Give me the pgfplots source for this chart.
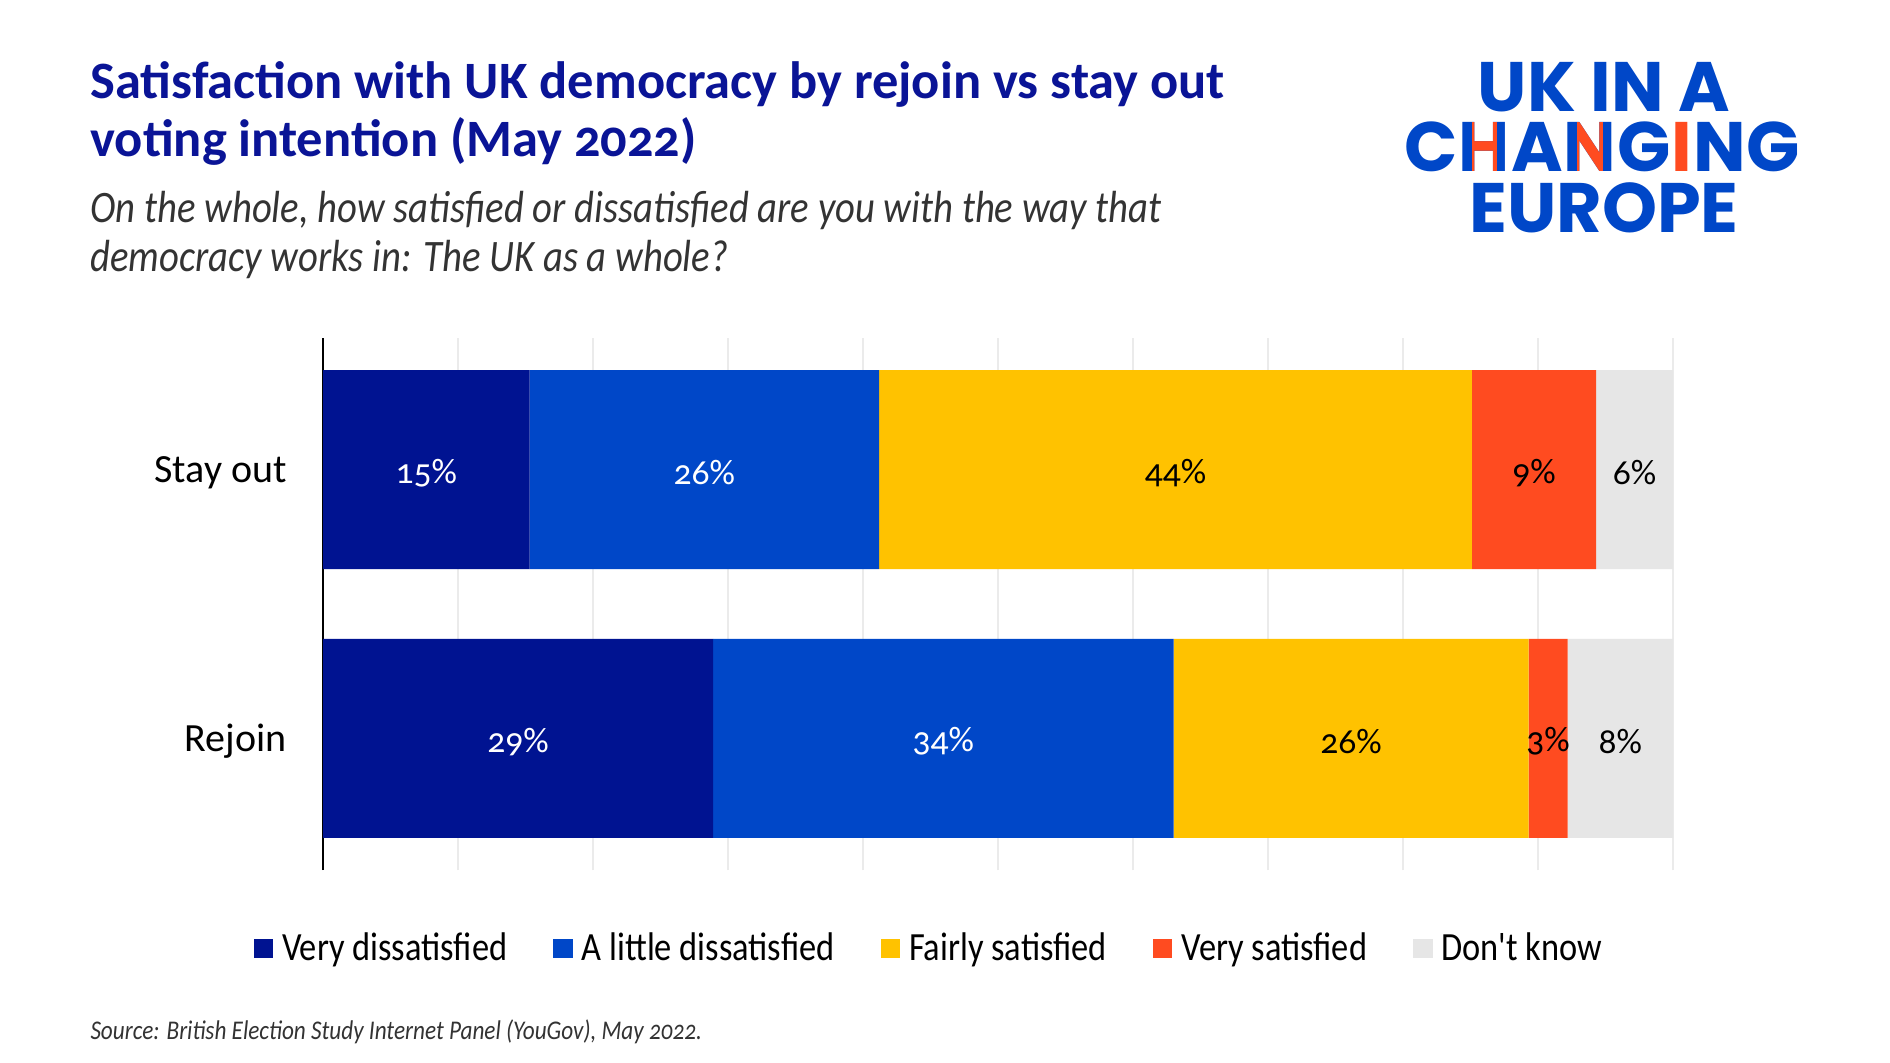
\documentclass[border=0pt]{standalone}
\usepackage{pgfplots}
\pgfplotsset{compat=1.18}
\usepackage{pgfplotstable}
\usepackage{fontspec}
\setmainfont{Carlito}[Numbers=OldStyle]
\newfontfamily\subfont{Carlito}[Numbers=OldStyle, FakeStretch=0.86]
\newfontfamily\logofont{Poppins}
\definecolor{cvd}{HTML}{001391}
\definecolor{cld}{HTML}{0047C8}
\definecolor{cfs}{HTML}{FFC200}
\definecolor{cvs}{HTML}{FF4B20}
\definecolor{cdk}{HTML}{E6E6E6}
\definecolor{titleblue}{HTML}{0A1496}
\definecolor{subgrey}{HTML}{333333}
\definecolor{gridgrey}{HTML}{EBEBEB}

\pgfplotstableread{
y vd ld fs vs dk lvd lld lfs lvs ldk
0 28.9 34.1 26.3 2.9 7.8 29 34 26 3 8
1 15.3 25.9 43.9 9.2 5.7 15 26 44 9 6
}\data

\begin{document}
\begin{tikzpicture}[x=0.4pt,y=-0.4pt]
\fill[white] (0,0) rectangle (1890,1063);
\path[use as bounding box] (0,0) rectangle (1890,1063);

% titles
\node[anchor=base west, inner sep=0, text=titleblue, font=\bfseries\fontsize{21}{24}\selectfont] at (90,99) {Satisfaction with UK democracy by rejoin vs stay out};
\node[anchor=base west, inner sep=0, text=titleblue, font=\bfseries\fontsize{21}{24}\selectfont] at (90,157) {voting intention (May 2022)};
\node[anchor=base west, inner sep=0, text=subgrey, font=\subfont\itshape\fontsize{18}{20}\selectfont] at (90,223) {On the whole, how satisfied or dissatisfied are you with the way that};
\node[anchor=base west, inner sep=0, text=subgrey, font=\subfont\itshape\fontsize{18}{20}\selectfont] at (90,272) {democracy works in: The UK as a whole?};

% logo
\begin{scope}[every node/.style={inner sep=0, text=cld, font=\logofont\bfseries\fontsize{28}{28}\selectfont}]
\node[anchor=base] at (1604,112) {UK IN A};
\node[anchor=base] at (1604,233) {EUROPE};
\node[anchor=base west] (L1) at (1404,172) {C};
\node[anchor=base west] (L2) at (L1.base east) {H};
\node[anchor=base west] (L3) at (L2.base east) {A};
\node[anchor=base west] (L4) at (L3.base east) {N};
\node[anchor=base west] (L5) at (L4.base east) {G};
\node[anchor=base west, text=cvs] (L6) at (L5.base east) {I};
\node[anchor=base west] (L7) at (L6.base east) {N};
\node[anchor=base west] (L8) at (L7.base east) {G};
\begin{scope}
\clip ([xshift=5.6pt]L2.base west) rectangle ([xshift=-5.6pt]L2.north east);
\node[anchor=base west, text=cvs] at (L2.base west) {H};
\end{scope}
\begin{scope}
\clip ([xshift=5.6pt]L4.base west) rectangle ([xshift=-5.6pt]L4.north east);
\node[anchor=base west, text=cvs] at (L4.base west) {N};
\end{scope}
\end{scope}

% source
\node[anchor=base west, inner sep=0, text=subgrey, font=\subfont\itshape\fontsize{10.8}{12}\selectfont] at (90,1039) {Source: British Election Study Internet Panel (YouGov), May 2022.};

\coordinate (axpos) at (323,870);
\begin{axis}[
  at={(axpos)}, anchor=south west,
  scale only axis, width=540pt, height=212.8pt,
  xbar stacked, bar width=0.741,
  xmin=0, xmax=100, ymin=-0.49, ymax=1.49,
  ytick={0,1}, yticklabels={Rejoin,Stay out},
  y tick label style={font=\fontsize{16}{16}\selectfont, text=black, xshift=-11pt, yshift=-1.3pt},
  xtick={0,10,...,100}, xticklabels={},
  xmajorgrids, grid style={color=gridgrey, line width=0.6pt},
  major tick length=0pt,
  axis lines*=left,
  x axis line style={draw=none},
  y axis line style={black, line width=0.7pt},
  legend columns=5,
  legend style={draw=none, fill=none, at={(0.45,-0.1475)}, anchor=center,
    font=\subfont\fontsize{16}{16}\selectfont,
    /tikz/every even column/.append style={column sep=16.5pt}},
  legend cell align=left,
  legend image code/.code={\fill[#1] (0pt,-3.85pt) rectangle (7.7pt,3.85pt); \path (9.3pt,0pt);},
  nodes near coords={\pgfplotspointmeta\%},
  point meta=explicit symbolic,
  nodes near coords style={anchor=center, yshift=-1.3pt, font=\fontsize{14.2}{14.2}\selectfont},
]
\addplot[fill=cvd, draw=none, nodes near coords style={text=white}]
  table[x=vd, y=y, meta=lvd] {\data};
\addlegendentry{Very dissatisfied}
\addplot[fill=cld, draw=none, nodes near coords style={text=white}]
  table[x=ld, y=y, meta=lld] {\data};
\addlegendentry{A little dissatisfied}
\addplot[fill=cfs, draw=none, nodes near coords style={text=black}]
  table[x=fs, y=y, meta=lfs] {\data};
\addlegendentry{Fairly satisfied}
\addplot[fill=cvs, draw=none, nodes near coords style={text=black}]
  table[x=vs, y=y, meta=lvs] {\data};
\addlegendentry{Very satisfied}
\addplot[fill=cdk, draw=none, nodes near coords style={text=black}]
  table[x=dk, y=y, meta=ldk] {\data};
\addlegendentry{Don't know}
\end{axis}
\end{tikzpicture}
\end{document}
